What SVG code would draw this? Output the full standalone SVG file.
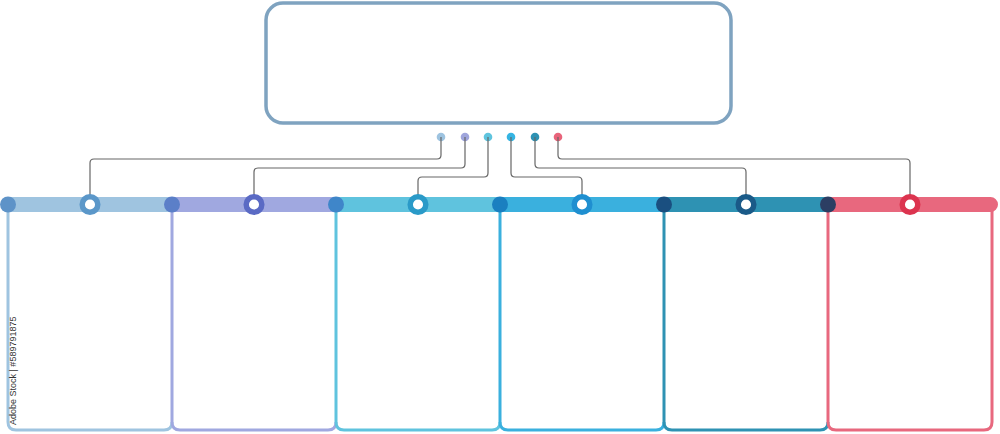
<svg xmlns="http://www.w3.org/2000/svg" width="1000" height="434" viewBox="0 0 1000 434">
<style>
.box{fill:none;stroke-width:3;stroke-linejoin:round}
.bar{stroke:none}
.ring{fill:#fff;stroke-width:5.5}
.conn{fill:none;stroke:#666;stroke-width:1.2}
.wm{font-family:"Liberation Sans",Arial,sans-serif;font-size:9px;fill:#333}
</style>
<rect width="1000" height="434" fill="#fff"/>
<g id="top-node">
<rect x="266" y="3" width="465" height="120" rx="17" fill="#fff" stroke="#7fa3c0" stroke-width="3.5"/>
<circle cx="441" cy="137" r="4.3" fill="#9dc3e0"/>
<circle cx="465" cy="137" r="4.3" fill="#9fa5dc"/>
<circle cx="488" cy="137" r="4.3" fill="#5fc4de"/>
<circle cx="511" cy="137" r="4.3" fill="#35b4e2"/>
<circle cx="535" cy="137" r="4.3" fill="#2e92b3"/>
<circle cx="558" cy="137" r="4.3" fill="#e8647a"/>
</g>
<g id="connectors">
<path class="conn" d="M441 137 V155 Q441 159 437 159 H94 Q90 159 90 163 V196"/>
<path class="conn" d="M465 137 V164 Q465 168 461 168 H258 Q254 168 254 172 V196"/>
<path class="conn" d="M488 137 V173 Q488 177 484 177 H422 Q418 177 418 181 V196"/>
<path class="conn" d="M511 137 V173 Q511 177 515 177 H578 Q582 177 582 181 V196"/>
<path class="conn" d="M535 137 V164 Q535 168 539 168 H742 Q746 168 746 172 V196"/>
<path class="conn" d="M558 137 V155 Q558 159 562 159 H906 Q910 159 910 163 V196"/>
</g>
<g id="node-1">
<path class="box" stroke="#9fc4e0" d="M8 204 V422 Q8 430 16 430 H164 Q172 430 172 422"/>
<rect class="bar" x="8" y="197" width="164" height="15" fill="#9fc4e0"/>
<circle cx="8" cy="204.5" r="8" fill="#5e93c8"/>
<circle class="ring" cx="90" cy="204.5" r="7.8" stroke="#5b97c9"/>
</g>
<g id="node-2">
<path class="box" stroke="#a0a8e0" d="M172 204 V422 Q172 430 180 430 H328 Q336 430 336 422"/>
<rect class="bar" x="172" y="197" width="164" height="15" fill="#a0a8e0"/>
<circle cx="172" cy="204.5" r="8" fill="#5b7fc8"/>
<circle class="ring" cx="254" cy="204.5" r="7.8" stroke="#5a6ac4"/>
</g>
<g id="node-3">
<path class="box" stroke="#5fc3de" d="M336 204 V422 Q336 430 344 430 H492 Q500 430 500 422"/>
<rect class="bar" x="336" y="197" width="164" height="15" fill="#5fc3de"/>
<circle cx="336" cy="204.5" r="8" fill="#3f86c9"/>
<circle class="ring" cx="418" cy="204.5" r="7.8" stroke="#2a9ac8"/>
</g>
<g id="node-4">
<path class="box" stroke="#3ab0de" d="M500 204 V422 Q500 430 508 430 H656 Q664 430 664 422"/>
<rect class="bar" x="500" y="197" width="164" height="15" fill="#3ab0de"/>
<circle cx="500" cy="204.5" r="8" fill="#1a7fc0"/>
<circle class="ring" cx="582" cy="204.5" r="7.8" stroke="#1f8fd0"/>
</g>
<g id="node-5">
<path class="box" stroke="#2e92b3" d="M664 204 V422 Q664 430 672 430 H820 Q828 430 828 422"/>
<rect class="bar" x="664" y="197" width="164" height="15" fill="#2e92b3"/>
<circle cx="664" cy="204.5" r="8" fill="#1a4f80"/>
<circle class="ring" cx="746" cy="204.5" r="7.8" stroke="#1a5a88"/>
</g>
<g id="node-6">
<path class="box" stroke="#e8687e" d="M828 204 V422 Q828 430 836 430 H984 Q992 430 992 422 V204"/>
<path class="bar" d="M828 197 H990.5 A7.5 7.5 0 0 1 990.5 212 H828 Z" fill="#e8687e"/>
<circle cx="828" cy="204.5" r="8" fill="#2c3e63"/>
<circle class="ring" cx="910" cy="204.5" r="7.8" stroke="#dc344f"/>
</g>
<text class="wm" transform="translate(16 425) rotate(-90)">Adobe Stock | #589791875</text>
</svg>
